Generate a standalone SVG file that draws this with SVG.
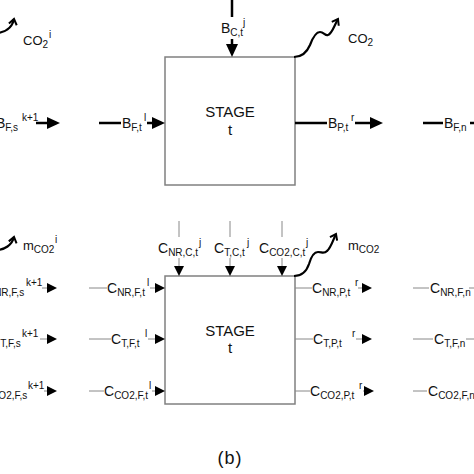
<svg xmlns="http://www.w3.org/2000/svg" width="474" height="474" viewBox="0 0 474 474">
<style>
text{font-family:"Liberation Sans",Arial,Helvetica,sans-serif;font-size:14px;fill:#111}
.s{font-size:10px}
.thick{stroke:#000;stroke-width:2.5;fill:none}
.thin{stroke:#888;stroke-width:1;fill:none}
.wave{stroke:#000;stroke-width:2.2;fill:none}
.box{fill:#fff;stroke:#808080;stroke-width:1.5}
.stg{font-size:15px}
.cap{font-size:18px}
</style>
<defs>
<marker id="hb" viewBox="0 -6 13 12" refX="0" refY="0" markerWidth="13" markerHeight="12" markerUnits="userSpaceOnUse" orient="auto"><path d="M0,-6 L13,0 L0,6 z" fill="#000"/></marker>
<marker id="hs" viewBox="0 -5 10 10" refX="0" refY="0" markerWidth="10" markerHeight="10" markerUnits="userSpaceOnUse" orient="auto"><path d="M0,-5 L10,0 L0,5 z" fill="#000"/></marker>
<marker id="ch" viewBox="-7 -5 9 10" refX="0" refY="0" markerWidth="9" markerHeight="10" markerUnits="userSpaceOnUse" orient="auto"><path d="M-5.5,-4 L0,0 L-5.5,4" fill="none" stroke="#000" stroke-width="2"/></marker>
</defs>

<g id="stage-top">
<rect class="box" x="165" y="57" width="130" height="128"/>
<text class="stg" x="230" y="117" text-anchor="middle">STAGE</text>
<text class="stg" x="230" y="135" text-anchor="middle">t</text>
</g>
<g id="stage-bottom">
<rect class="box" x="165" y="276" width="130" height="128"/>
<text class="stg" x="230" y="336" text-anchor="middle">STAGE</text>
<text class="stg" x="230" y="353" text-anchor="middle">t</text>
</g>

<g id="connectors">
<path class="wave" d="M-5,33 C5,33 12,28 14,19" marker-end="url(#ch)"/>
<line class="thick" x1="36" y1="123" x2="47" y2="123" marker-end="url(#hb)"/>
<line class="thick" x1="99" y1="123" x2="121" y2="123"/>
<line class="thick" x1="147" y1="123" x2="152" y2="123" marker-end="url(#hb)"/>
<line class="thick" x1="232" y1="0" x2="232" y2="17"/>
<line class="thick" x1="232" y1="39" x2="232" y2="44" marker-end="url(#hb)"/>
<path class="wave" d="M294,57 C302,57 307,52 310,45 C313,37 316,32 320,32 C324,32 325,36 328,35 C332,34 334,26 338,19" marker-end="url(#ch)"/>
<line class="thick" x1="295" y1="123" x2="327" y2="123"/>
<line class="thick" x1="355" y1="123" x2="370" y2="123" marker-end="url(#hb)"/>
<line class="thick" x1="423" y1="123" x2="443" y2="123"/>
<line class="thick" x1="470" y1="123" x2="480" y2="123"/>
<path class="wave" d="M-5,250 C5,250 12,245 14,237" marker-end="url(#ch)"/>
<line class="thin" x1="179" y1="221" x2="179" y2="237"/>
<line class="thin" x1="230" y1="221" x2="230" y2="237"/>
<line class="thin" x1="282" y1="221" x2="282" y2="237"/>
<line class="thin" x1="179" y1="258" x2="179" y2="266" marker-end="url(#hs)"/>
<line class="thin" x1="230" y1="258" x2="230" y2="266" marker-end="url(#hs)"/>
<line class="thin" x1="282" y1="258" x2="282" y2="266" marker-end="url(#hs)"/>
<path class="wave" d="M294,276 C303,276 307,270 309,264 C311,257 314,252 318,252 C322,252 324,254 327,251 C331,248 333,240 336,234" marker-end="url(#ch)"/>
<line class="thin" x1="42" y1="288" x2="47" y2="288" marker-end="url(#hs)"/>
<line class="thin" x1="40" y1="339" x2="47" y2="339" marker-end="url(#hs)"/>
<line class="thin" x1="44" y1="391" x2="47" y2="391" marker-end="url(#hs)"/>
<line class="thin" x1="89" y1="288" x2="107" y2="288"/>
<line class="thin" x1="150" y1="288" x2="155" y2="288" marker-end="url(#hs)"/>
<line class="thin" x1="89" y1="339" x2="111" y2="339"/>
<line class="thin" x1="148" y1="339" x2="155" y2="339" marker-end="url(#hs)"/>
<line class="thin" x1="89" y1="391" x2="104" y2="391"/>
<line class="thin" x1="152" y1="391" x2="155" y2="391" marker-end="url(#hs)"/>
<line class="thin" x1="295" y1="288" x2="312" y2="288"/>
<line class="thin" x1="358" y1="288" x2="362" y2="288" marker-end="url(#hs)"/>
<line class="thin" x1="295" y1="339" x2="313" y2="339"/>
<line class="thin" x1="356" y1="339" x2="362" y2="339" marker-end="url(#hs)"/>
<line class="thin" x1="295" y1="391" x2="310" y2="391"/>
<line class="thin" x1="363" y1="391" x2="364" y2="391" marker-end="url(#hs)"/>
<line class="thin" x1="413" y1="288" x2="429" y2="288"/>
<line class="thin" x1="469" y1="288" x2="480" y2="288"/>
<line class="thin" x1="413" y1="339" x2="433" y2="339"/>
<line class="thin" x1="466" y1="339" x2="480" y2="339"/>
<line class="thin" x1="413" y1="391" x2="427" y2="391"/>
</g>

<g id="labels">
<text x="23" y="45" style="font-size:13px">CO<tspan class="s" y="48">2</tspan><tspan class="s" x="49" y="38">i</tspan></text>
<text x="-4" y="128">B<tspan class="s" y="131">F,s</tspan><tspan class="s" x="22" y="121">k+1</tspan></text>
<text x="122" y="128">B<tspan class="s" y="131">F,t</tspan><tspan class="s" x="144" y="121">l</tspan></text>
<text x="221" y="33">B<tspan class="s" y="36">C,t</tspan><tspan class="s" x="243" y="26">j</tspan></text>
<text x="348" y="43" style="font-size:13px">CO<tspan class="s" y="46">2</tspan></text>
<text x="328" y="128">B<tspan class="s" y="131">P,t</tspan><tspan class="s" x="351" y="121">r</tspan></text>
<text x="444" y="128">B<tspan class="s" y="131">F,n</tspan></text>

<text x="23" y="250" style="font-size:13px">m<tspan class="s" y="253">CO2</tspan><tspan class="s" x="55" y="243">i</tspan></text>
<text x="158" y="253">C<tspan class="s" y="256">NR,C,t</tspan><tspan class="s" x="199" y="246">j</tspan></text>
<text x="214" y="253">C<tspan class="s" y="256">T,C,t</tspan><tspan class="s" x="247" y="246">j</tspan></text>
<text x="259" y="253">C<tspan class="s" y="256">CO2,C,t</tspan><tspan class="s" x="306" y="246">j</tspan></text>
<text x="348" y="250" style="font-size:13px">m<tspan class="s" y="253">CO2</tspan></text>

<text x="-16" y="293">C<tspan class="s" y="296">NR,F,s</tspan><tspan class="s" x="26" y="286">k+1</tspan></text>
<text x="-10" y="344">C<tspan class="s" y="347">T,F,s</tspan><tspan class="s" x="22" y="337">k+1</tspan></text>
<text x="-19" y="396">C<tspan class="s" y="399">CO2,F,s</tspan><tspan class="s" x="28" y="389">k+1</tspan></text>

<text x="107" y="293">C<tspan class="s" y="296">NR,F,t</tspan><tspan class="s" x="147" y="286">l</tspan></text>
<text x="111" y="344">C<tspan class="s" y="347">T,F,t</tspan><tspan class="s" x="145" y="337">l</tspan></text>
<text x="104" y="396">C<tspan class="s" y="399">CO2,F,t</tspan><tspan class="s" x="149" y="389">l</tspan></text>

<text x="312" y="293">C<tspan class="s" y="296">NR,P,t</tspan><tspan class="s" x="355" y="286">r</tspan></text>
<text x="313" y="344">C<tspan class="s" y="347">T,P,t</tspan><tspan class="s" x="352" y="337">r</tspan></text>
<text x="310" y="396">C<tspan class="s" y="399">CO2,P,t</tspan><tspan class="s" x="359" y="389">r</tspan></text>

<text x="430" y="293">C<tspan class="s" y="296">NR,F,n</tspan></text>
<text x="434" y="344">C<tspan class="s" y="347">T,F,n</tspan></text>
<text x="428" y="396">C<tspan class="s" y="399">CO2,F,n</tspan></text>

<text class="cap" x="230" y="464" text-anchor="middle" letter-spacing="1">(b)</text>
</g>
</svg>
